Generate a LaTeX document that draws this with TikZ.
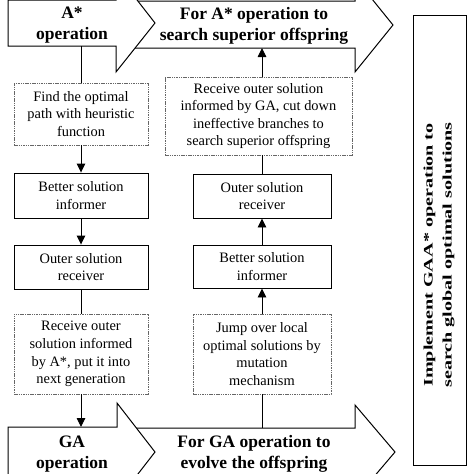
\documentclass[tikz,border=0pt]{standalone}
\usepackage{fontspec}
\setmainfont{Liberation Serif}
\usetikzlibrary{arrows.meta}
\newcommand{\dgboxfont}{\fontsize{14.4}{17.6}\selectfont}
\newcommand{\dgtitlefont}{\fontsize{17.5}{21}\selectfont\bfseries}
\newcommand{\dgsidefont}{\fontsize{13}{19}\selectfont\bfseries}
\begin{document}
\begin{tikzpicture}[x=1pt,y=-1pt,
  every node/.style={align=center, inner sep=0pt},
  solidbox/.style={draw=black, line width=0.9pt, fill=white, font=\dgboxfont},
  dashbox/.style={draw=black!60, line width=0.8pt, dash pattern=on 1.5pt off 0.8pt, fill=white, font=\dgboxfont},
  shapeline/.style={draw=black, line width=1pt, fill=white, line join=miter},
  titletext/.style={font=\dgtitlefont},
  link/.style={line width=0.9pt},
  arr/.style={link, -{Triangle[length=9pt,width=8.5pt]}}
]
\useasboundingbox (0,0) rectangle (474,474);
\clip (0,0) rectangle (474,474);

% top arrow shapes
\draw[shapeline] (120,1) -- (355,1) -- (355,-22) -- (393,25) -- (355,72) -- (355,48) -- (120,48) -- cycle;
\draw[shapeline] (8,0) -- (116,0) -- (116,-27) -- (155,23) -- (116,72) -- (116,46) -- (8,46) -- cycle;
% bottom arrow shapes
\draw[shapeline] (120,428) -- (355,428) -- (355,405) -- (395,452) -- (355,499) -- (355,476) -- (120,476) -- cycle;
\draw[shapeline] (8,427) -- (117,427) -- (117,403) -- (155,452) -- (117,501) -- (117,477) -- (8,477) -- cycle;

\node[titletext] (atitle) at (72,25) {A*\\operation};
\node[titletext] (btitle) at (254,26) {For A* operation to\\search superior offspring};
\node[titletext] (ctitle) at (72,454) {GA\\operation};
\node[titletext] (dtitle) at (254,454) {For GA operation to\\evolve the offspring};

\coordinate (abottom) at (81,46);
\coordinate (bbottom) at (262,48);
\coordinate (ctop) at (81,427);
\coordinate (dtop) at (262,428);

% left column
\node[dashbox, minimum width=134pt, minimum height=62pt] (find) at (81,114) {Find the optimal\\path with heuristic\\function};
\node[solidbox, minimum width=134pt, minimum height=45pt] (lbetter) at (81,195.5) {Better solution\\informer};
\node[solidbox, minimum width=134pt, minimum height=44pt] (louter) at (81,267) {Outer solution\\receiver};
\node[dashbox, minimum width=134pt, minimum height=80pt] (lrecv) at (81,354) {Receive outer\\solution informed\\by A*, put it into\\next generation};

% right column
\node[dashbox, minimum width=187pt, minimum height=78pt] (rrecv) at (258.5,116) {Receive outer solution\\informed by GA, cut down\\ineffective branches to\\search superior offspring};
\node[solidbox, minimum width=138pt, minimum height=44pt] (rout) at (262,196) {Outer solution\\receiver};
\node[solidbox, minimum width=138pt, minimum height=43pt] (rbetter) at (262,266.5) {Better solution\\informer};
\node[dashbox, minimum width=138pt, minimum height=80pt] (jump) at (262,354) {Jump over local\\optimal solutions by\\mutation\\mechanism};

% right tall box
\node[draw=black, line width=0.9pt, minimum width=53pt, minimum height=450pt] (gaa) at (439.5,240) {};
\node[font=\dgsidefont, rotate=90, xscale=1.55] (gaatext) at (439,255) {Implement GAA* operation to\\search global optimal solutions};

% connectors
\draw[link] (abottom) -- (find.north);
\draw[arr] (find.south) -- (lbetter.north);
\draw[arr] (lbetter.south) -- (louter.north);
\draw[link] (louter.south) -- (lrecv.north);
\draw[arr] (lrecv.south) -- (ctop);

\draw[link] (dtop) -- (jump.south);
\draw[arr] (jump.north) -- (rbetter.south);
\draw[arr] (rbetter.north) -- (rout.south);
\draw[link] (rout.north) -- (rrecv.south -| rout.north);
\draw[arr] (rrecv.north -| rout.north) -- (bbottom);
\end{tikzpicture}
\end{document}
